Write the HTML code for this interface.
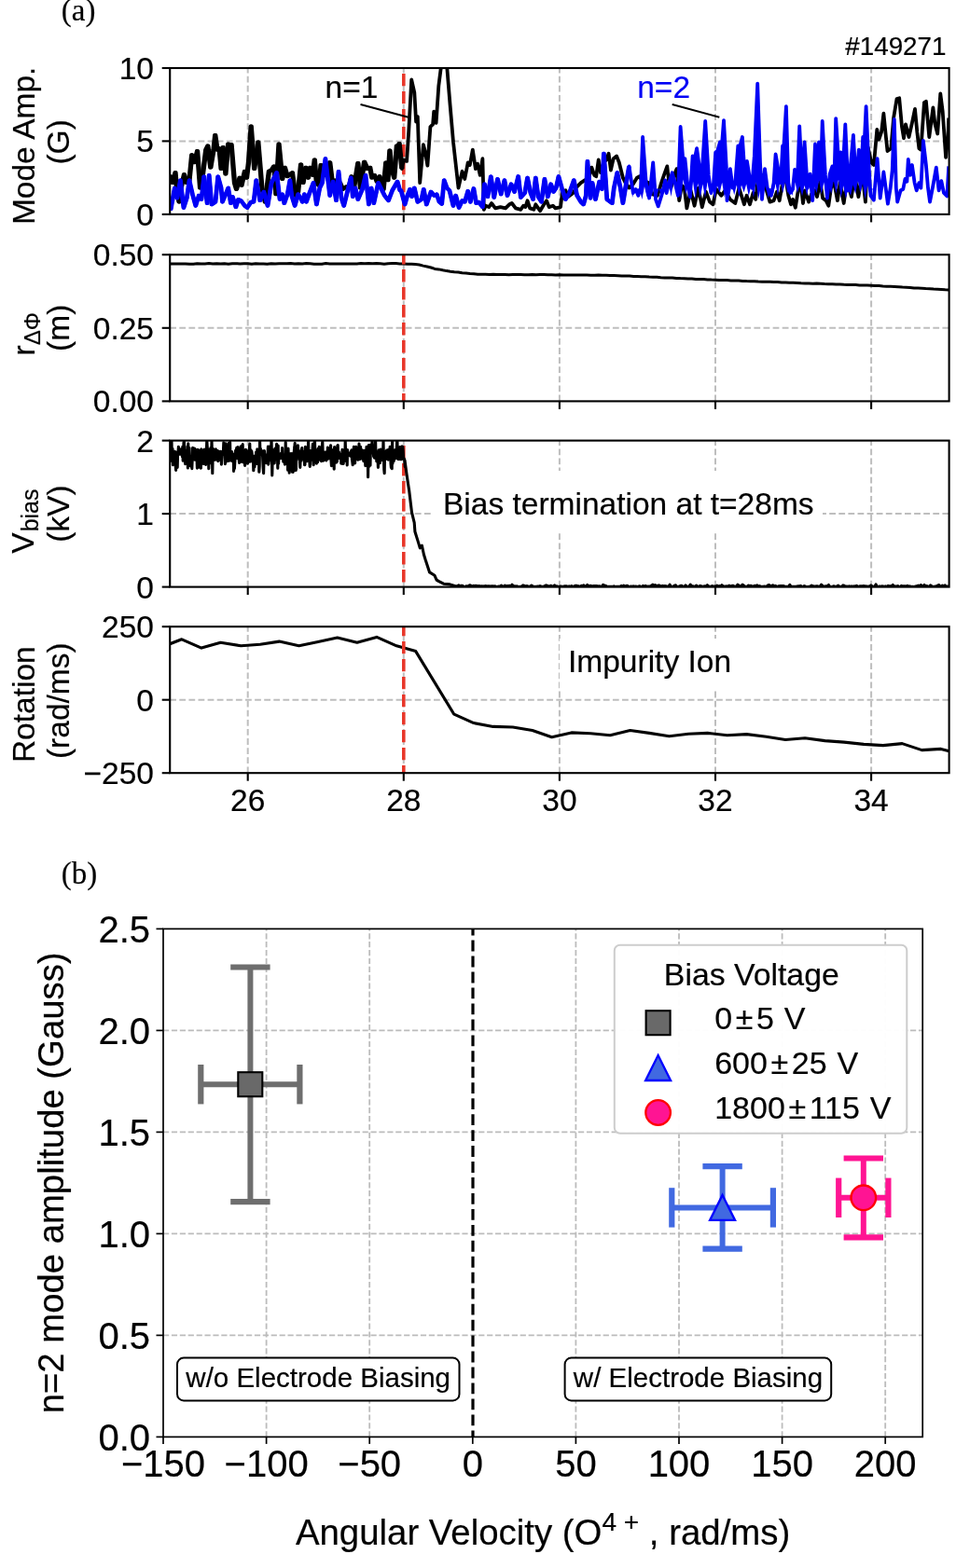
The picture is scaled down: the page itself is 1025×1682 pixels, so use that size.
<!DOCTYPE html>
<html><head><meta charset="utf-8"><title>Figure</title>
<style>html,body{margin:0;padding:0;background:#fff;overflow:hidden}svg{display:block}.t text{stroke:#000;stroke-width:.2px}.t text.bl{stroke:#0000f5}</style></head>
<body>
<svg width="1025" height="1682" viewBox="0 0 1025 1682">
<defs>
<clipPath id="c0"><rect x="182.2" y="73.0" width="835.4" height="156.9"/></clipPath>
<clipPath id="c1"><rect x="182.2" y="273.2" width="835.4" height="157.2"/></clipPath>
<clipPath id="c2"><rect x="182.2" y="472.6" width="835.4" height="157.0"/></clipPath>
<clipPath id="c3"><rect x="182.2" y="672.2" width="835.4" height="157.0"/></clipPath>
</defs>
<rect width="1025" height="1682" fill="#fff"/>
<g id="fig">
<g font-family='"Liberation Sans", Arial, Helvetica, sans-serif' font-size="33.5" fill="#000" class="t">
<line x1="265.7" y1="229.9" x2="265.7" y2="73.0" stroke="#bebebe" stroke-width="2.0" stroke-dasharray="6.8 3.3"/>
<line x1="432.8" y1="229.9" x2="432.8" y2="73.0" stroke="#bebebe" stroke-width="2.0" stroke-dasharray="6.8 3.3"/>
<line x1="599.9" y1="229.9" x2="599.9" y2="73.0" stroke="#bebebe" stroke-width="2.0" stroke-dasharray="6.8 3.3"/>
<line x1="767.0" y1="229.9" x2="767.0" y2="73.0" stroke="#bebebe" stroke-width="2.0" stroke-dasharray="6.8 3.3"/>
<line x1="934.1" y1="229.9" x2="934.1" y2="73.0" stroke="#bebebe" stroke-width="2.0" stroke-dasharray="6.8 3.3"/>
<line x1="182.2" y1="151.4" x2="1017.6" y2="151.4" stroke="#bebebe" stroke-width="2.0" stroke-dasharray="6.8 3.3"/>
<line x1="432.8" y1="229.9" x2="432.8" y2="73.0" stroke="#e8372a" stroke-width="3.6" stroke-dasharray="13.3 5.7" stroke-dashoffset="14.4"/>
<g clip-path="url(#c0)" fill="none" stroke-linejoin="round" stroke-linecap="butt">
<path d="M182.2 189.3 L183.2 189.3 L185.2 196.1 L188.0 185.2 L190.0 208.4 L192.1 216.6 L194.1 201.6 L197.5 187.2 L200.3 196.1 L203.0 193.4 L205.7 166.1 L208.5 174.3 L211.6 162.0 L214.6 201.6 L217.3 187.9 L220.8 160.6 L222.8 156.5 L225.8 179.7 L229.0 160.6 L230.7 144.9 L233.0 160.6 L235.1 159.2 L237.1 181.1 L239.2 157.9 L241.9 186.6 L244.7 154.5 L248.1 155.1 L251.5 196.1 L253.5 203.0 L257.0 190.7 L259.0 198.9 L262.4 183.8 L264.5 190.7 L266.5 174.3 L269.2 135.3 L272.7 181.1 L276.8 152.4 L280.9 201.6 L284.3 216.6 L288.4 183.8 L291.1 182.5 L293.8 178.4 L295.9 208.4 L299.0 154.5 L302.7 192.0 L305.4 179.7 L308.2 189.3 L311.6 186.6 L313.4 185.2 L316.8 209.8 L319.6 205.7 L322.6 176.3 L325.0 196.1 L327.8 179.7 L330.5 190.7 L332.5 179.7 L335.3 187.9 L337.3 171.5 L339.4 196.1 L342.1 198.9 L344.1 177.0 L347.6 187.9 L351.0 183.8 L353.7 174.3 L356.4 196.1 L359.2 193.4 L361.9 201.6 L364.6 196.1 L367.4 203.0 L371.5 200.2 L374.2 201.6 L376.9 189.3 L379.7 200.2 L383.8 175.0 L386.5 201.6 L390.6 173.6 L394.0 181.1 L396.7 179.7 L398.8 190.7 L401.5 187.9 L404.2 194.8 L407.0 189.3 L411.1 203.0 L413.8 174.3 L415.9 193.4 L417.9 161.3 L420.0 181.1 L422.7 190.7 L425.4 156.5 L426.8 160.6 L428.1 153.8 L430.9 181.1" stroke="#000" stroke-width="3.8" transform="translate(-0.75 0)"/>
<path d="M182.2 189.3 L183.2 189.3 L185.2 196.1 L188.0 185.2 L190.0 208.4 L192.1 216.6 L194.1 201.6 L197.5 187.2 L200.3 196.1 L203.0 193.4 L205.7 166.1 L208.5 174.3 L211.6 162.0 L214.6 201.6 L217.3 187.9 L220.8 160.6 L222.8 156.5 L225.8 179.7 L229.0 160.6 L230.7 144.9 L233.0 160.6 L235.1 159.2 L237.1 181.1 L239.2 157.9 L241.9 186.6 L244.7 154.5 L248.1 155.1 L251.5 196.1 L253.5 203.0 L257.0 190.7 L259.0 198.9 L262.4 183.8 L264.5 190.7 L266.5 174.3 L269.2 135.3 L272.7 181.1 L276.8 152.4 L280.9 201.6 L284.3 216.6 L288.4 183.8 L291.1 182.5 L293.8 178.4 L295.9 208.4 L299.0 154.5 L302.7 192.0 L305.4 179.7 L308.2 189.3 L311.6 186.6 L313.4 185.2 L316.8 209.8 L319.6 205.7 L322.6 176.3 L325.0 196.1 L327.8 179.7 L330.5 190.7 L332.5 179.7 L335.3 187.9 L337.3 171.5 L339.4 196.1 L342.1 198.9 L344.1 177.0 L347.6 187.9 L351.0 183.8 L353.7 174.3 L356.4 196.1 L359.2 193.4 L361.9 201.6 L364.6 196.1 L367.4 203.0 L371.5 200.2 L374.2 201.6 L376.9 189.3 L379.7 200.2 L383.8 175.0 L386.5 201.6 L390.6 173.6 L394.0 181.1 L396.7 179.7 L398.8 190.7 L401.5 187.9 L404.2 194.8 L407.0 189.3 L411.1 203.0 L413.8 174.3 L415.9 193.4 L417.9 161.3 L420.0 181.1 L422.7 190.7 L425.4 156.5 L426.8 160.6 L428.1 153.8 L430.9 181.1" stroke="#000" stroke-width="3.8" transform="translate(0.75 0)"/>
<path d="M182.2 189.3 L183.2 189.3 L185.2 196.1 L188.0 185.2 L190.0 208.4 L192.1 216.6 L194.1 201.6 L197.5 187.2 L200.3 196.1 L203.0 193.4 L205.7 166.1 L208.5 174.3 L211.6 162.0 L214.6 201.6 L217.3 187.9 L220.8 160.6 L222.8 156.5 L225.8 179.7 L229.0 160.6 L230.7 144.9 L233.0 160.6 L235.1 159.2 L237.1 181.1 L239.2 157.9 L241.9 186.6 L244.7 154.5 L248.1 155.1 L251.5 196.1 L253.5 203.0 L257.0 190.7 L259.0 198.9 L262.4 183.8 L264.5 190.7 L266.5 174.3 L269.2 135.3 L272.7 181.1 L276.8 152.4 L280.9 201.6 L284.3 216.6 L288.4 183.8 L291.1 182.5 L293.8 178.4 L295.9 208.4 L299.0 154.5 L302.7 192.0 L305.4 179.7 L308.2 189.3 L311.6 186.6 L313.4 185.2 L316.8 209.8 L319.6 205.7 L322.6 176.3 L325.0 196.1 L327.8 179.7 L330.5 190.7 L332.5 179.7 L335.3 187.9 L337.3 171.5 L339.4 196.1 L342.1 198.9 L344.1 177.0 L347.6 187.9 L351.0 183.8 L353.7 174.3 L356.4 196.1 L359.2 193.4 L361.9 201.6 L364.6 196.1 L367.4 203.0 L371.5 200.2 L374.2 201.6 L376.9 189.3 L379.7 200.2 L383.8 175.0 L386.5 201.6 L390.6 173.6 L394.0 181.1 L396.7 179.7 L398.8 190.7 L401.5 187.9 L404.2 194.8 L407.0 189.3 L411.1 203.0 L413.8 174.3 L415.9 193.4 L417.9 161.3 L420.0 181.1 L422.7 190.7 L425.4 156.5 L426.8 160.6 L428.1 153.8 L430.9 181.1 L432.9 171.5 L436.1 172.9 L438.2 141.5 L441.2 85.5 L444.3 99.1 L446.1 130.6 L447.8 125.1 L450.2 196.1 L453.9 155.1 L456.0 163.3 L458.4 177.7 L461.4 136.0 L464.1 133.3 L465.2 119.6 L467.6 131.9 L470.3 92.3 L473.4 67.7 L476.2 56.8 L478.9 67.7 L482.6 112.8 L486.0 152.4 L491.5 201.6 L495.6 183.8 L498.3 192.0 L501.7 174.3 L503.8 177.0 L506.8 160.6 L509.9 181.1 L512.0 175.6 L514.7 187.9 L517.4 170.2 L518.8 224.8 L520.8 220.7 L524.2 222.1 L527.0 218.0 L531.1 223.4 L536.5 222.1 L542.0 223.4 L546.1 219.3 L548.8 218.0 L552.9 223.4 L558.4 224.8 L561.1 220.7 L563.4 222.1 L565.5 215.2 L568.2 223.4 L572.3 224.8 L574.3 219.3 L579.1 226.2 L583.2 219.3 L586.0 215.2 L588.7 222.1 L592.8 220.7 L595.5 223.4 L601.0 222.1 L603.0 205.7 L606.4 204.3 L609.2 211.1 L614.6 207.0 L617.4 201.6 L622.8 196.1 L626.9 193.4 L631.0 192.0 L634.4 179.7 L637.2 187.9 L639.2 189.3 L641.7 171.5 L644.0 185.2 L647.4 174.3 L650.1 171.5 L652.6 164.7 L654.9 182.5 L657.7 170.2 L661.1 167.4 L663.8 174.3 L667.9 190.7 L670.6 196.1 L674.7 201.6 L678.8 197.5 L682.9 190.7 L685.7 189.3 L689.8 196.1 L690.0 193.4 L695.5 196.1 L699.6 208.4 L705.0 209.8 L709.1 196.1 L711.9 187.9 L715.3 178.4 L717.3 196.1 L719.4 201.6 L722.8 187.9 L725.5 181.1 L728.2 215.2 L731.0 198.9 L733.7 201.6 L736.4 223.4 L740.5 204.3 L744.6 220.7 L748.7 201.6 L752.8 222.1 L756.9 205.7 L761.0 216.6 L764.4 219.3 L767.9 203.0 L773.3 209.8 L777.4 204.3 L782.9 213.9 L788.3 218.0 L792.4 201.6 L797.9 219.3 L800.6 209.8 L804.0 219.3 L807.5 207.0 L810.2 213.9 L812.9 190.7 L815.7 196.1 L818.4 187.9 L821.1 201.6 L825.5 216.6 L829.6 215.2 L833.0 205.7 L835.7 215.2 L839.1 196.1 L842.5 192.0 L845.3 209.8 L848.0 219.3 L850.0 213.9 L852.8 222.8 L856.2 201.6 L858.9 200.2 L861.0 218.0 L863.0 204.3 L867.1 216.6 L869.9 208.4 L873.3 204.3 L876.0 211.1 L879.4 194.8 L882.1 212.5 L885.6 215.2 L888.3 220.7 L891.0 201.6 L894.4 196.1 L897.9 215.2 L900.6 196.1 L904.7 218.0 L908.1 193.4 L912.9 211.1 L916.3 187.9 L920.4 211.1 L924.5 185.2 L927.9 216.6 L930.6 157.9 L934.2 174.3 L936.9 177.0 L940.3 138.8 L942.4 149.7 L945.1 141.5 L947.4 121.7 L949.9 147.0 L951.5 162.0 L955.3 159.2 L958.1 126.5 L961.5 106.0 L964.2 105.3 L967.0 136.0 L969.0 148.3 L971.0 133.3 L974.5 147.0 L977.9 131.9 L981.0 116.9 L983.3 141.5 L985.4 159.2 L987.4 160.6 L990.9 110.1 L992.9 108.7 L996.3 147.0 L1000.4 115.5 L1002.5 133.3 L1005.2 143.5 L1008.3 100.5 L1010.7 119.6 L1014.1 168.8 L1016.4 147.0 L1017.2 126.5" stroke="#000" stroke-width="3.8"/>
<path d="M676.0 188.5 L678.8 202.4 L681.6 202.4 L684.3 202.4 L687.0 201.6 L689.1 147.0 L692.7 196.1 L696.1 202.4 L700.2 174.3 L703.0 202.4 L705.7 202.4 L710.5 202.4 L713.2 193.4 L714.6 202.4 L717.3 196.1 L720.7 185.2 L724.1 197.5 L726.9 202.4 L729.6 136.0 L732.3 171.5 L734.4 170.2 L737.1 196.1 L739.9 202.4 L742.6 167.4 L744.6 171.5 L747.1 159.2 L750.1 181.1 L752.8 182.5 L756.2 129.9 L759.7 187.9 L762.4 202.4 L765.1 196.1 L767.2 163.3 L769.2 162.0 L772.0 152.4 L774.0 155.1 L776.0 129.2 L778.8 179.7 L779.5 202.4 L782.9 181.1 L785.6 201.6 L788.3 196.1 L791.3 156.5 L793.1 157.9 L795.9 147.0 L798.6 187.9 L800.9 172.9 L804.0 192.0 L806.1 201.6 L808.8 167.4 L812.2 89.6 L815.0 174.3 L817.0 202.4 L820.0 181.1 L822.7 201.6 L826.8 202.4 L829.6 196.1 L831.6 165.4 L834.3 181.1 L837.1 196.1 L839.1 156.5 L840.5 155.1 L842.9 114.2 L845.3 196.1 L847.3 202.4 L850.0 202.4 L852.1 181.8 L854.8 196.1 L857.2 135.3 L859.6 187.9 L862.6 152.4 L865.8 201.6 L868.5 186.6 L871.2 202.4 L874.0 154.5 L876.0 187.9 L878.0 152.4 L880.1 185.2 L881.7 129.9 L884.9 187.9 L886.9 202.4 L889.7 186.6 L892.4 178.4 L894.4 193.4 L896.2 127.1 L899.2 174.3 L901.3 163.3 L903.3 190.7 L906.3 133.3 L909.5 202.4 L912.2 174.3 L914.9 144.9 L917.7 194.8 L920.8 160.6 L923.1 190.7 L925.2 147.0 L926.5 157.9 L928.6 114.2 L931.3 174.3 L933.5 202.4 L936.9 202.4 L938.0 201.3 L938.0 212.4 L935.4 202.4 L932.8 211.1 L930.2 198.9 L927.6 213.7 L925.0 196.9 L922.4 207.0 L919.8 193.8 L917.2 208.2 L914.6 198.3 L912.0 210.0 L909.4 202.4 L906.8 212.9 L904.2 199.3 L901.6 212.5 L899.0 192.8 L896.4 207.7 L893.8 193.8 L891.2 207.9 L888.6 198.6 L886.0 211.8 L883.4 195.2 L880.8 208.5 L878.2 193.4 L875.6 207.3 L873.0 199.4 L870.4 209.5 L867.8 194.8 L865.2 210.2 L862.6 198.7 L860.0 210.5 L857.4 199.4 L854.8 206.9 L852.2 193.3 L849.6 209.9 L847.0 202.4 L844.4 207.1 L841.8 195.6 L839.2 207.3 L836.6 193.5 L834.0 210.2 L831.4 196.8 L828.8 209.5 L826.2 202.4 L823.6 212.9 L821.0 197.7 L818.4 207.8 L815.8 199.7 L813.2 213.8 L810.6 195.2 L808.0 212.0 L805.4 198.3 L802.8 210.5 L800.2 197.4 L797.6 206.4 L795.0 198.6 L792.4 211.0 L789.8 198.5 L787.2 209.2 L784.6 197.9 L782.0 211.4 L779.4 202.4 L776.8 211.7 L774.2 195.7 L771.6 207.1 L769.0 199.3 L766.4 213.7 L763.8 201.4 L761.2 208.2 L758.6 195.3 L756.0 212.3 L753.4 197.5 L750.8 212.8 L748.2 196.5 L745.6 213.9 L743.0 194.6 L740.4 207.2 L737.8 199.9 L735.2 208.4 L732.6 192.6 L730.0 214.1 L727.4 197.8 L724.8 206.6 L722.2 194.0 L719.6 211.0 L717.0 197.4 L714.4 209.3 L711.8 199.8 L709.2 211.9 L706.6 202.4 L704.0 210.7 L701.4 199.0 L698.8 211.2 L696.2 202.4 L693.6 211.6 L691.0 200.0 L688.4 213.9 L685.8 202.4 L683.2 208.1 L680.6 202.4 L678.0 211.9 Z" fill="#0000f5" stroke="none"/>
<path d="M182.2 224.1 L183.2 224.1 L187.3 201.6 L190.0 212.5 L193.4 193.4 L196.9 222.8 L200.3 212.5 L203.0 193.4 L206.4 208.4 L209.8 220.7 L213.2 209.8 L216.0 213.9 L218.7 189.3 L222.1 218.0 L224.2 187.9 L226.9 219.3 L231.0 216.6 L233.7 189.3 L237.1 201.6 L238.5 216.6 L241.9 208.4 L244.7 201.6 L247.4 218.0 L249.4 211.1 L252.9 222.1 L255.6 213.9 L258.3 215.2 L262.4 220.7 L265.1 222.8 L269.2 216.6 L272.0 216.6 L274.7 193.4 L278.8 215.2 L282.9 205.7 L287.0 220.7 L291.1 196.1 L296.6 185.2 L300.0 213.9 L302.7 208.4 L304.8 218.0 L308.2 208.4 L310.9 193.4 L312.7 209.8 L316.1 220.7 L319.6 208.4 L322.3 212.5 L324.3 216.6 L326.4 208.4 L328.4 216.6 L331.9 207.0 L336.0 196.1 L339.4 219.3 L342.8 201.6 L345.5 196.1 L348.9 170.2 L351.0 187.9 L353.7 209.8 L357.1 194.8 L360.5 215.2 L363.0 183.8 L366.0 212.5 L368.7 220.7 L372.8 204.3 L376.2 190.7 L378.3 211.1 L381.0 201.6 L383.8 213.9 L388.5 203.0 L392.0 187.9 L395.4 219.3 L398.1 201.6 L400.8 218.0 L405.6 196.1 L408.3 201.6 L412.4 209.8 L416.5 215.2 L420.6 204.3 L426.1 194.8 L428.8 204.3 L430.0 204.3 L434.1 219.3 L436.8 209.8 L439.6 203.0 L441.6 211.1 L444.3 201.6 L447.8 216.6 L451.9 213.9 L454.3 203.0 L457.3 219.3 L462.1 205.7 L465.5 209.8 L468.2 208.4 L471.0 216.6 L473.7 218.7 L476.2 193.4 L479.2 201.6 L481.9 204.3 L486.0 220.7 L488.7 209.8 L492.1 222.8 L495.6 215.2 L498.3 216.6 L501.7 205.0 L504.4 216.6 L507.9 202.3 L510.6 218.0 L513.3 216.6 L517.4 222.1 L519.5 197.5 L522.9 211.1 L526.3 189.3 L529.7 211.8 L533.5 192.0 L537.2 208.4 L540.9 193.4 L544.0 209.8 L548.1 197.5 L551.6 205.7 L555.7 189.3 L558.4 211.8 L562.7 207.0 L565.5 190.7 L568.9 207.0 L571.6 213.9 L574.3 190.7 L577.1 211.1 L580.5 216.6 L583.9 192.0 L587.3 211.1 L590.7 197.5 L593.5 205.7 L596.2 201.6 L598.9 189.3 L602.3 201.6 L606.4 213.9 L610.5 207.0 L615.3 193.4 L618.7 209.8 L622.8 216.6 L625.6 219.3 L628.3 209.8 L629.9 172.9 L633.1 212.5 L635.1 196.1 L638.5 213.9 L642.6 194.8 L645.4 203.0 L647.4 164.7 L650.8 213.9 L656.3 218.0 L658.3 201.6 L661.8 185.2 L665.2 201.6 L667.9 218.0 L670.6 201.6 L674.5 178.4" stroke="#0000f5" stroke-width="3.8" transform="translate(-0.5 0)"/>
<path d="M182.2 224.1 L183.2 224.1 L187.3 201.6 L190.0 212.5 L193.4 193.4 L196.9 222.8 L200.3 212.5 L203.0 193.4 L206.4 208.4 L209.8 220.7 L213.2 209.8 L216.0 213.9 L218.7 189.3 L222.1 218.0 L224.2 187.9 L226.9 219.3 L231.0 216.6 L233.7 189.3 L237.1 201.6 L238.5 216.6 L241.9 208.4 L244.7 201.6 L247.4 218.0 L249.4 211.1 L252.9 222.1 L255.6 213.9 L258.3 215.2 L262.4 220.7 L265.1 222.8 L269.2 216.6 L272.0 216.6 L274.7 193.4 L278.8 215.2 L282.9 205.7 L287.0 220.7 L291.1 196.1 L296.6 185.2 L300.0 213.9 L302.7 208.4 L304.8 218.0 L308.2 208.4 L310.9 193.4 L312.7 209.8 L316.1 220.7 L319.6 208.4 L322.3 212.5 L324.3 216.6 L326.4 208.4 L328.4 216.6 L331.9 207.0 L336.0 196.1 L339.4 219.3 L342.8 201.6 L345.5 196.1 L348.9 170.2 L351.0 187.9 L353.7 209.8 L357.1 194.8 L360.5 215.2 L363.0 183.8 L366.0 212.5 L368.7 220.7 L372.8 204.3 L376.2 190.7 L378.3 211.1 L381.0 201.6 L383.8 213.9 L388.5 203.0 L392.0 187.9 L395.4 219.3 L398.1 201.6 L400.8 218.0 L405.6 196.1 L408.3 201.6 L412.4 209.8 L416.5 215.2 L420.6 204.3 L426.1 194.8 L428.8 204.3 L430.0 204.3 L434.1 219.3 L436.8 209.8 L439.6 203.0 L441.6 211.1 L444.3 201.6 L447.8 216.6 L451.9 213.9 L454.3 203.0 L457.3 219.3 L462.1 205.7 L465.5 209.8 L468.2 208.4 L471.0 216.6 L473.7 218.7 L476.2 193.4 L479.2 201.6 L481.9 204.3 L486.0 220.7 L488.7 209.8 L492.1 222.8 L495.6 215.2 L498.3 216.6 L501.7 205.0 L504.4 216.6 L507.9 202.3 L510.6 218.0 L513.3 216.6 L517.4 222.1 L519.5 197.5 L522.9 211.1 L526.3 189.3 L529.7 211.8 L533.5 192.0 L537.2 208.4 L540.9 193.4 L544.0 209.8 L548.1 197.5 L551.6 205.7 L555.7 189.3 L558.4 211.8 L562.7 207.0 L565.5 190.7 L568.9 207.0 L571.6 213.9 L574.3 190.7 L577.1 211.1 L580.5 216.6 L583.9 192.0 L587.3 211.1 L590.7 197.5 L593.5 205.7 L596.2 201.6 L598.9 189.3 L602.3 201.6 L606.4 213.9 L610.5 207.0 L615.3 193.4 L618.7 209.8 L622.8 216.6 L625.6 219.3 L628.3 209.8 L629.9 172.9 L633.1 212.5 L635.1 196.1 L638.5 213.9 L642.6 194.8 L645.4 203.0 L647.4 164.7 L650.8 213.9 L656.3 218.0 L658.3 201.6 L661.8 185.2 L665.2 201.6 L667.9 218.0 L670.6 201.6 L674.5 178.4" stroke="#0000f5" stroke-width="3.8" transform="translate(0.5 0)"/>
<path d="M182.2 224.1 L183.2 224.1 L187.3 201.6 L190.0 212.5 L193.4 193.4 L196.9 222.8 L200.3 212.5 L203.0 193.4 L206.4 208.4 L209.8 220.7 L213.2 209.8 L216.0 213.9 L218.7 189.3 L222.1 218.0 L224.2 187.9 L226.9 219.3 L231.0 216.6 L233.7 189.3 L237.1 201.6 L238.5 216.6 L241.9 208.4 L244.7 201.6 L247.4 218.0 L249.4 211.1 L252.9 222.1 L255.6 213.9 L258.3 215.2 L262.4 220.7 L265.1 222.8 L269.2 216.6 L272.0 216.6 L274.7 193.4 L278.8 215.2 L282.9 205.7 L287.0 220.7 L291.1 196.1 L296.6 185.2 L300.0 213.9 L302.7 208.4 L304.8 218.0 L308.2 208.4 L310.9 193.4 L312.7 209.8 L316.1 220.7 L319.6 208.4 L322.3 212.5 L324.3 216.6 L326.4 208.4 L328.4 216.6 L331.9 207.0 L336.0 196.1 L339.4 219.3 L342.8 201.6 L345.5 196.1 L348.9 170.2 L351.0 187.9 L353.7 209.8 L357.1 194.8 L360.5 215.2 L363.0 183.8 L366.0 212.5 L368.7 220.7 L372.8 204.3 L376.2 190.7 L378.3 211.1 L381.0 201.6 L383.8 213.9 L388.5 203.0 L392.0 187.9 L395.4 219.3 L398.1 201.6 L400.8 218.0 L405.6 196.1 L408.3 201.6 L412.4 209.8 L416.5 215.2 L420.6 204.3 L426.1 194.8 L428.8 204.3 L430.0 204.3 L434.1 219.3 L436.8 209.8 L439.6 203.0 L441.6 211.1 L444.3 201.6 L447.8 216.6 L451.9 213.9 L454.3 203.0 L457.3 219.3 L462.1 205.7 L465.5 209.8 L468.2 208.4 L471.0 216.6 L473.7 218.7 L476.2 193.4 L479.2 201.6 L481.9 204.3 L486.0 220.7 L488.7 209.8 L492.1 222.8 L495.6 215.2 L498.3 216.6 L501.7 205.0 L504.4 216.6 L507.9 202.3 L510.6 218.0 L513.3 216.6 L517.4 222.1 L519.5 197.5 L522.9 211.1 L526.3 189.3 L529.7 211.8 L533.5 192.0 L537.2 208.4 L540.9 193.4 L544.0 209.8 L548.1 197.5 L551.6 205.7 L555.7 189.3 L558.4 211.8 L562.7 207.0 L565.5 190.7 L568.9 207.0 L571.6 213.9 L574.3 190.7 L577.1 211.1 L580.5 216.6 L583.9 192.0 L587.3 211.1 L590.7 197.5 L593.5 205.7 L596.2 201.6 L598.9 189.3 L602.3 201.6 L606.4 213.9 L610.5 207.0 L615.3 193.4 L618.7 209.8 L622.8 216.6 L625.6 219.3 L628.3 209.8 L629.9 172.9 L633.1 212.5 L635.1 196.1 L638.5 213.9 L642.6 194.8 L645.4 203.0 L647.4 164.7 L650.8 213.9 L656.3 218.0 L658.3 201.6 L661.8 185.2 L665.2 201.6 L667.9 218.0 L670.6 201.6 L674.5 178.4 L678.8 207.0 L681.6 203.0 L684.3 209.8 L687.0 201.6 L689.1 147.0 L692.7 196.1 L696.1 212.5 L700.2 174.3 L703.0 213.9 L705.7 221.4 L710.5 205.7 L713.2 193.4 L714.6 207.0 L717.3 196.1 L720.7 185.2 L724.1 197.5 L726.9 209.8 L729.6 136.0 L732.3 171.5 L734.4 170.2 L737.1 196.1 L739.9 211.1 L742.6 167.4 L744.6 171.5 L747.1 159.2 L750.1 181.1 L752.8 182.5 L756.2 129.9 L759.7 187.9 L762.4 207.0 L765.1 196.1 L767.2 163.3 L769.2 162.0 L772.0 152.4 L774.0 155.1 L776.0 129.2 L778.8 179.7 L779.5 215.2 L782.9 181.1 L785.6 201.6 L788.3 196.1 L791.3 156.5 L793.1 157.9 L795.9 147.0 L798.6 187.9 L800.9 172.9 L804.0 192.0 L806.1 201.6 L808.8 167.4 L812.2 89.6 L815.0 174.3 L817.0 213.9 L820.0 181.1 L822.7 201.6 L826.8 209.8 L829.6 196.1 L831.6 165.4 L834.3 181.1 L837.1 196.1 L839.1 156.5 L840.5 155.1 L842.9 114.2 L845.3 196.1 L847.3 207.0 L850.0 203.0 L852.1 181.8 L854.8 196.1 L857.2 135.3 L859.6 187.9 L862.6 152.4 L865.8 201.6 L868.5 186.6 L871.2 215.2 L874.0 154.5 L876.0 187.9 L878.0 152.4 L880.1 185.2 L881.7 129.9 L884.9 187.9 L886.9 212.5 L889.7 186.6 L892.4 178.4 L894.4 193.4 L896.2 127.1 L899.2 174.3 L901.3 163.3 L903.3 190.7 L906.3 133.3 L909.5 204.3 L912.2 174.3 L914.9 144.9 L917.7 194.8 L920.8 160.6 L923.1 190.7 L925.2 147.0 L926.5 157.9 L928.6 114.2 L931.3 174.3 L933.5 209.8 L936.9 214.6 L940.6 170.2 L943.7 212.5 L947.4 184.5 L951.9 218.7 L954.7 201.6 L956.7 182.5 L958.8 127.8 L960.8 201.6 L962.2 216.6 L965.6 204.3 L968.3 203.0 L970.4 192.0 L972.4 194.8 L973.8 170.9 L975.8 187.9 L977.9 177.0 L980.6 196.1 L982.7 204.3 L985.4 196.1 L987.4 201.6 L989.9 151.0 L992.9 177.0 L995.0 201.6 L997.0 216.6 L1000.4 198.9 L1003.8 179.7 L1006.6 204.3 L1009.3 194.1 L1012.0 207.0 L1015.4 210.5 L1017.2 178.4" stroke="#0000f5" stroke-width="3.8"/>
</g>
<line x1="265.7" y1="229.9" x2="265.7" y2="238.4" stroke="#000" stroke-width="2.1"/>
<line x1="432.8" y1="229.9" x2="432.8" y2="238.4" stroke="#000" stroke-width="2.1"/>
<line x1="599.9" y1="229.9" x2="599.9" y2="238.4" stroke="#000" stroke-width="2.1"/>
<line x1="767.0" y1="229.9" x2="767.0" y2="238.4" stroke="#000" stroke-width="2.1"/>
<line x1="934.1" y1="229.9" x2="934.1" y2="238.4" stroke="#000" stroke-width="2.1"/>
<line x1="173.7" y1="73.0" x2="182.2" y2="73.0" stroke="#000" stroke-width="2.1"/>
<text x="165.0" y="85.0" text-anchor="end">10</text>
<line x1="173.7" y1="151.4" x2="182.2" y2="151.4" stroke="#000" stroke-width="2.1"/>
<text x="165.0" y="163.4" text-anchor="end">5</text>
<line x1="173.7" y1="229.9" x2="182.2" y2="229.9" stroke="#000" stroke-width="2.1"/>
<text x="165.0" y="241.9" text-anchor="end">0</text>
<rect x="182.2" y="73.0" width="835.4" height="156.9" fill="none" stroke="#000" stroke-width="2.1"/>
<text transform="translate(37.3 156.4) rotate(-90)" text-anchor="middle">Mode Amp.</text>
<text transform="translate(73.5 152.4) rotate(-90)" text-anchor="middle">(G)</text>
<text x="348.5" y="105">n=1</text>
<line x1="386.5" y1="112" x2="437.7" y2="125.8" stroke="#000" stroke-width="2"/>
<text x="683.2" y="105" fill="#0000f5" class="bl">n=2</text>
<line x1="720.7" y1="112" x2="771.3" y2="125.8" stroke="#000" stroke-width="2"/>
<text x="1014.5" y="59" text-anchor="end" font-size="27.8">#149271</text>
<line x1="265.7" y1="430.4" x2="265.7" y2="273.2" stroke="#bebebe" stroke-width="2.0" stroke-dasharray="6.8 3.3"/>
<line x1="432.8" y1="430.4" x2="432.8" y2="273.2" stroke="#bebebe" stroke-width="2.0" stroke-dasharray="6.8 3.3"/>
<line x1="599.9" y1="430.4" x2="599.9" y2="273.2" stroke="#bebebe" stroke-width="2.0" stroke-dasharray="6.8 3.3"/>
<line x1="767.0" y1="430.4" x2="767.0" y2="273.2" stroke="#bebebe" stroke-width="2.0" stroke-dasharray="6.8 3.3"/>
<line x1="934.1" y1="430.4" x2="934.1" y2="273.2" stroke="#bebebe" stroke-width="2.0" stroke-dasharray="6.8 3.3"/>
<line x1="182.2" y1="351.8" x2="1017.6" y2="351.8" stroke="#bebebe" stroke-width="2.0" stroke-dasharray="6.8 3.3"/>
<path d="M182.2 283.1 L186.4 282.9 L190.6 283.0 L194.7 282.9 L198.9 282.9 L203.1 283.3 L207.3 283.3 L211.4 282.7 L215.6 283.1 L219.8 283.1 L224.0 282.6 L228.1 283.0 L232.3 282.7 L236.5 283.0 L240.7 282.8 L244.9 283.2 L249.0 282.8 L253.2 282.7 L257.4 282.9 L261.6 282.8 L265.7 282.8 L269.9 283.3 L274.1 282.8 L278.3 282.9 L282.4 283.1 L286.6 283.3 L290.8 282.7 L295.0 283.0 L299.2 282.8 L303.3 282.7 L307.5 282.8 L311.7 282.6 L315.9 283.0 L320.0 282.7 L324.2 283.0 L328.4 282.6 L332.6 282.7 L336.7 283.3 L340.9 283.2 L345.1 283.2 L349.3 282.6 L353.5 283.0 L357.6 282.9 L361.8 283.1 L366.0 282.9 L370.2 283.0 L374.3 283.1 L378.5 282.9 L382.7 282.9 L386.9 282.6 L391.0 282.8 L395.2 282.6 L399.4 282.7 L403.6 282.6 L407.8 282.8 L411.9 283.2 L416.1 282.7 L420.3 282.6 L424.5 282.6 L428.6 282.9 L432.8 282.9 L437.0 283.3 L441.2 283.3 L445.4 283.6 L449.5 284.0 L453.7 285.1 L457.9 286.0 L462.1 287.0 L466.2 288.4 L470.4 288.9 L474.6 289.8 L478.8 290.6 L482.9 291.2 L487.1 291.7 L491.3 292.1 L495.5 292.8 L499.7 293.0 L503.8 293.6 L508.0 293.8 L512.2 294.3 L516.4 294.2 L520.5 294.2 L524.7 294.4 L528.9 294.2 L533.1 294.5 L537.2 294.6 L541.4 294.4 L545.6 294.7 L549.8 294.6 L554.0 294.6 L558.1 294.6 L562.3 294.7 L566.5 294.8 L570.7 294.6 L574.8 294.8 L579.0 294.6 L583.2 294.6 L587.4 294.8 L591.5 294.8 L595.7 294.9 L599.9 294.8 L604.1 294.9 L608.3 294.9 L612.4 294.9 L616.6 294.9 L620.8 295.0 L625.0 295.1 L629.1 295.0 L633.3 295.2 L637.5 295.2 L641.7 295.0 L645.8 295.2 L650.0 295.2 L654.2 295.5 L658.4 295.5 L662.6 295.7 L666.7 296.0 L670.9 296.0 L675.1 296.1 L679.3 296.4 L683.4 296.4 L687.6 296.7 L691.8 296.8 L696.0 297.1 L700.1 297.2 L704.3 297.3 L708.5 297.7 L712.7 297.9 L716.9 297.9 L721.0 298.0 L725.2 298.4 L729.4 298.6 L733.6 298.7 L737.7 299.0 L741.9 299.1 L746.1 299.4 L750.3 299.5 L754.4 299.6 L758.6 299.9 L762.8 300.1 L767.0 300.2 L771.2 300.5 L775.3 300.5 L779.5 300.6 L783.7 300.9 L787.9 301.1 L792.0 301.1 L796.2 301.4 L800.4 301.6 L804.6 301.7 L808.8 301.7 L812.9 302.1 L817.1 302.2 L821.3 302.3 L825.5 302.3 L829.6 302.6 L833.8 302.6 L838.0 303.0 L842.2 303.1 L846.3 303.2 L850.5 303.3 L854.7 303.5 L858.9 303.8 L863.1 303.9 L867.2 303.9 L871.4 304.2 L875.6 304.1 L879.8 304.3 L883.9 304.6 L888.1 304.7 L892.3 304.7 L896.5 304.9 L900.6 305.0 L904.8 305.3 L909.0 305.5 L913.2 305.6 L917.4 305.6 L921.5 305.9 L925.7 306.0 L929.9 306.1 L934.1 306.2 L938.2 306.5 L942.4 306.6 L946.6 307.0 L950.8 307.3 L954.9 307.3 L959.1 307.5 L963.3 307.7 L967.5 308.1 L971.7 308.2 L975.8 308.4 L980.0 308.9 L984.2 309.0 L988.4 309.2 L992.5 309.5 L996.7 309.7 L1000.9 310.1 L1005.1 310.3 L1009.2 310.5 L1013.4 310.8 L1017.6 310.9" fill="none" stroke="#000" stroke-width="3.0" stroke-linejoin="round" clip-path="url(#c1)"/>
<line x1="432.8" y1="430.4" x2="432.8" y2="273.2" stroke="#e8372a" stroke-width="3.6" stroke-dasharray="13.3 5.7" stroke-dashoffset="5.0"/>
<line x1="265.7" y1="430.4" x2="265.7" y2="438.9" stroke="#000" stroke-width="2.1"/>
<line x1="432.8" y1="430.4" x2="432.8" y2="438.9" stroke="#000" stroke-width="2.1"/>
<line x1="599.9" y1="430.4" x2="599.9" y2="438.9" stroke="#000" stroke-width="2.1"/>
<line x1="767.0" y1="430.4" x2="767.0" y2="438.9" stroke="#000" stroke-width="2.1"/>
<line x1="934.1" y1="430.4" x2="934.1" y2="438.9" stroke="#000" stroke-width="2.1"/>
<line x1="173.7" y1="273.2" x2="182.2" y2="273.2" stroke="#000" stroke-width="2.1"/>
<text x="165.0" y="285.2" text-anchor="end">0.50</text>
<line x1="173.7" y1="351.8" x2="182.2" y2="351.8" stroke="#000" stroke-width="2.1"/>
<text x="165.0" y="363.8" text-anchor="end">0.25</text>
<line x1="173.7" y1="430.4" x2="182.2" y2="430.4" stroke="#000" stroke-width="2.1"/>
<text x="165.0" y="442.4" text-anchor="end">0.00</text>
<rect x="182.2" y="273.2" width="835.4" height="157.2" fill="none" stroke="#000" stroke-width="2.1"/>
<text transform="translate(37 358.3) rotate(-90)" text-anchor="middle">r<tspan font-size="24" dy="5.5">ΔΦ</tspan></text>
<text transform="translate(73.5 351.8) rotate(-90)" text-anchor="middle">(m)</text>
<line x1="265.7" y1="629.6" x2="265.7" y2="472.6" stroke="#bebebe" stroke-width="2.0" stroke-dasharray="6.8 3.3"/>
<line x1="432.8" y1="629.6" x2="432.8" y2="472.6" stroke="#bebebe" stroke-width="2.0" stroke-dasharray="6.8 3.3"/>
<line x1="599.9" y1="629.6" x2="599.9" y2="472.6" stroke="#bebebe" stroke-width="2.0" stroke-dasharray="6.8 3.3"/>
<line x1="767.0" y1="629.6" x2="767.0" y2="472.6" stroke="#bebebe" stroke-width="2.0" stroke-dasharray="6.8 3.3"/>
<line x1="934.1" y1="629.6" x2="934.1" y2="472.6" stroke="#bebebe" stroke-width="2.0" stroke-dasharray="6.8 3.3"/>
<line x1="182.2" y1="551.1" x2="1017.6" y2="551.1" stroke="#bebebe" stroke-width="2.0" stroke-dasharray="6.8 3.3"/>
<rect x="463" y="505" width="419" height="66" fill="#fff"/>
<line x1="432.8" y1="629.6" x2="432.8" y2="472.6" stroke="#e8372a" stroke-width="3.6" stroke-dasharray="13.3 5.7" stroke-dashoffset="13.8"/>
<path d="M182.2 495.5 L182.6 486.1 L183.0 485.5 L183.4 481.8 L183.8 463.8 L184.2 482.5 L184.6 494.9 L185.0 481.2 L185.4 498.8 L185.8 484.2 L186.2 492.9 L186.6 487.0 L187.0 490.0 L187.4 484.4 L187.8 485.0 L188.2 499.5 L188.6 504.5 L189.0 485.2 L189.4 488.6 L189.8 485.8 L190.2 501.5 L190.6 485.6 L191.0 484.8 L191.4 479.4 L191.8 487.2 L192.2 483.8 L192.6 486.9 L193.0 482.6 L193.4 487.3 L193.8 483.9 L194.2 481.7 L194.6 484.1 L195.0 481.8 L195.4 490.0 L195.8 479.2 L196.2 494.2 L196.6 483.6 L197.0 474.7 L197.4 473.6 L197.8 484.7 L198.2 492.3 L198.6 497.7 L199.0 483.4 L199.4 487.7 L199.8 490.3 L200.2 487.6 L200.6 496.3 L201.0 478.9 L201.4 501.9 L201.8 475.7 L202.2 497.8 L202.6 497.6 L203.0 480.5 L203.4 493.9 L203.8 493.3 L204.2 499.9 L204.6 495.7 L205.0 491.9 L205.4 500.2 L205.8 502.6 L206.2 493.8 L206.6 480.4 L207.0 492.5 L207.4 487.8 L207.8 488.3 L208.2 487.4 L208.6 481.1 L209.0 493.1 L209.4 486.3 L209.8 482.4 L210.2 492.8 L210.6 490.9 L211.0 491.8 L211.4 502.3 L211.8 486.9 L212.2 482.4 L212.6 486.2 L213.0 501.3 L213.4 497.6 L213.8 492.3 L214.2 487.1 L214.6 486.9 L215.0 483.1 L215.4 502.2 L215.8 481.7 L216.2 487.9 L216.6 490.6 L217.0 495.0 L217.4 486.2 L217.8 489.7 L218.2 497.4 L218.6 497.5 L219.0 482.1 L219.4 490.6 L219.8 494.2 L220.2 495.6 L220.6 498.4 L221.0 490.7 L221.4 482.8 L221.8 471.7 L222.2 478.6 L222.6 484.2 L223.0 484.1 L223.4 482.6 L223.8 502.7 L224.2 487.6 L224.6 489.4 L225.0 496.6 L225.4 496.7 L225.8 480.6 L226.2 495.9 L226.6 489.5 L227.0 473.0 L227.4 485.6 L227.8 507.6 L228.2 487.8 L228.6 489.1 L229.0 481.7 L229.4 493.4 L229.8 487.5 L230.2 488.1 L230.6 489.5 L231.0 493.3 L231.4 481.8 L231.8 488.3 L232.2 484.4 L232.6 491.7 L233.0 488.9 L233.4 483.5 L233.8 494.8 L234.2 484.1 L234.6 491.2 L235.0 485.9 L235.4 490.3 L235.8 485.3 L236.2 493.7 L236.6 484.4 L237.0 487.9 L237.4 498.2 L237.8 488.7 L238.2 487.0 L238.6 487.3 L239.0 486.7 L239.4 484.7 L239.8 474.9 L240.2 482.8 L240.6 482.3 L241.0 488.9 L241.4 497.6 L241.8 485.5 L242.2 475.9 L242.6 487.1 L243.0 494.9 L243.4 483.8 L243.8 480.0 L244.2 493.4 L244.6 481.7 L245.0 494.5 L245.4 475.3 L245.8 486.0 L246.2 486.7 L246.6 474.2 L247.0 494.0 L247.4 489.5 L247.8 487.0 L248.2 488.5 L248.6 484.6 L249.0 487.1 L249.4 495.0 L249.8 490.5 L250.2 487.4 L250.6 505.4 L251.0 491.8 L251.4 502.7 L251.8 496.1 L252.2 489.6 L252.6 483.4 L253.0 484.9 L253.4 482.4 L253.8 480.3 L254.2 483.1 L254.6 491.8 L255.0 479.6 L255.4 491.9 L255.8 482.1 L256.2 493.0 L256.6 496.5 L257.0 485.2 L257.4 487.0 L257.8 495.4 L258.2 478.9 L258.6 480.1 L259.0 491.3 L259.4 495.3 L259.8 488.2 L260.2 476.5 L260.6 495.6 L261.0 489.5 L261.4 496.2 L261.8 490.9 L262.2 494.0 L262.6 499.5 L263.0 486.9 L263.4 482.3 L263.8 483.1 L264.2 488.7 L264.6 490.1 L265.0 486.4 L265.4 497.2 L265.8 493.9 L266.2 483.9 L266.6 485.8 L267.0 494.2 L267.4 480.9 L267.8 476.1 L268.2 495.1 L268.6 490.8 L269.0 482.9 L269.4 492.0 L269.8 484.1 L270.2 486.2 L270.6 495.3 L271.0 494.8 L271.4 491.6 L271.8 504.8 L272.2 497.0 L272.6 489.3 L273.0 500.9 L273.4 490.9 L273.8 491.9 L274.2 492.5 L274.6 485.0 L275.0 490.0 L275.4 497.4 L275.8 481.8 L276.2 496.8 L276.6 497.5 L277.0 489.7 L277.4 489.3 L277.8 506.3 L278.2 499.9 L278.6 473.3 L279.0 487.4 L279.4 481.2 L279.8 486.7 L280.2 484.5 L280.6 486.4 L281.0 483.9 L281.4 485.5 L281.8 494.4 L282.2 502.4 L282.6 507.7 L283.0 493.7 L283.4 483.5 L283.8 488.2 L284.2 487.4 L284.6 491.0 L285.0 490.4 L285.4 496.6 L285.8 489.1 L286.2 488.3 L286.6 488.6 L287.0 489.5 L287.4 479.0 L287.8 498.2 L288.2 494.3 L288.6 479.0 L289.0 482.3 L289.4 485.8 L289.8 492.7 L290.2 489.5 L290.6 493.7 L291.0 469.1 L291.4 490.6 L291.8 509.9 L292.2 490.9 L292.6 489.7 L293.0 482.8 L293.4 490.6 L293.8 492.2 L294.2 497.0 L294.6 491.9 L295.0 481.0 L295.4 483.3 L295.8 490.4 L296.2 489.7 L296.6 476.4 L297.0 482.5 L297.4 485.8 L297.8 502.2 L298.2 478.0 L298.6 497.3 L299.0 489.9 L299.4 490.6 L299.8 490.9 L300.2 490.5 L300.6 491.6 L301.0 488.3 L301.4 486.3 L301.8 491.7 L302.2 488.0 L302.6 480.6 L303.0 491.2 L303.4 487.6 L303.8 495.3 L304.2 491.1 L304.6 490.7 L305.0 490.1 L305.4 498.2 L305.8 497.6 L306.2 474.4 L306.6 489.4 L307.0 487.8 L307.4 483.0 L307.8 494.1 L308.2 483.3 L308.6 504.3 L309.0 481.0 L309.4 494.3 L309.8 487.2 L310.2 507.3 L310.6 486.6 L311.0 500.0 L311.4 493.4 L311.8 489.1 L312.2 486.5 L312.6 488.2 L313.0 493.3 L313.4 506.3 L313.8 488.4 L314.2 506.4 L314.6 485.7 L315.0 497.7 L315.4 483.3 L315.8 479.8 L316.2 475.4 L316.6 504.4 L317.0 483.3 L317.4 504.4 L317.8 489.2 L318.2 481.7 L318.6 489.2 L319.0 484.5 L319.4 477.7 L319.8 484.3 L320.2 483.2 L320.6 489.1 L321.0 493.3 L321.4 492.9 L321.8 501.4 L322.2 489.3 L322.6 492.1 L323.0 494.3 L323.4 482.1 L323.8 480.5 L324.2 492.2 L324.6 484.0 L325.0 485.7 L325.4 487.5 L325.8 490.7 L326.2 491.9 L326.6 498.8 L327.0 498.4 L327.4 479.3 L327.8 493.8 L328.2 481.6 L328.6 491.2 L329.0 494.8 L329.4 491.7 L329.8 491.0 L330.2 487.7 L330.6 470.6 L331.0 490.0 L331.4 486.0 L331.8 494.1 L332.2 500.4 L332.6 498.3 L333.0 483.5 L333.4 493.5 L333.8 493.3 L334.2 486.2 L334.6 484.3 L335.0 482.7 L335.4 476.3 L335.8 487.1 L336.2 498.7 L336.6 485.8 L337.0 490.4 L337.4 469.1 L337.8 484.1 L338.2 492.4 L338.6 489.7 L339.0 488.9 L339.4 497.2 L339.8 483.1 L340.2 494.2 L340.6 495.8 L341.0 481.3 L341.4 486.3 L341.8 484.9 L342.2 479.4 L342.6 488.7 L343.0 484.2 L343.4 493.5 L343.8 480.0 L344.2 492.6 L344.6 494.7 L345.0 488.3 L345.4 477.7 L345.8 473.7 L346.2 488.2 L346.6 494.2 L347.0 491.4 L347.4 489.2 L347.8 485.9 L348.2 485.1 L348.6 485.5 L349.0 487.2 L349.4 493.5 L349.8 493.9 L350.2 484.7 L350.6 490.3 L351.0 487.5 L351.4 480.0 L351.8 492.2 L352.2 484.8 L352.6 491.8 L353.0 487.7 L353.4 491.3 L353.8 486.7 L354.2 482.5 L354.6 477.7 L355.0 494.0 L355.4 499.7 L355.8 492.5 L356.2 490.1 L356.6 482.9 L357.0 489.9 L357.4 492.7 L357.8 492.5 L358.2 503.3 L358.6 479.6 L359.0 485.0 L359.4 488.8 L359.8 480.9 L360.2 488.3 L360.6 496.2 L361.0 490.8 L361.4 495.3 L361.8 478.2 L362.2 477.6 L362.6 490.8 L363.0 491.6 L363.4 484.8 L363.8 490.0 L364.2 489.8 L364.6 489.1 L365.0 491.1 L365.4 487.3 L365.8 497.2 L366.2 489.3 L366.6 492.7 L367.0 482.2 L367.4 497.5 L367.8 483.1 L368.2 497.5 L368.6 487.9 L369.0 487.4 L369.4 490.6 L369.8 494.0 L370.2 472.1 L370.6 485.5 L371.0 494.8 L371.4 484.7 L371.8 484.8 L372.2 499.0 L372.6 482.5 L373.0 489.0 L373.4 487.0 L373.8 485.8 L374.2 488.8 L374.6 487.3 L375.0 487.4 L375.4 486.3 L375.8 489.2 L376.2 486.1 L376.6 483.7 L377.0 482.9 L377.4 492.8 L377.8 495.2 L378.2 498.7 L378.6 490.3 L379.0 483.3 L379.4 479.4 L379.8 487.5 L380.2 488.5 L380.6 496.9 L381.0 482.0 L381.4 482.6 L381.8 479.4 L382.2 487.5 L382.6 482.5 L383.0 491.9 L383.4 492.5 L383.8 493.2 L384.2 480.0 L384.6 487.1 L385.0 476.0 L385.4 492.6 L385.8 485.3 L386.2 492.5 L386.6 479.4 L387.0 487.2 L387.4 482.4 L387.8 483.4 L388.2 490.0 L388.6 492.1 L389.0 492.6 L389.4 483.2 L389.8 494.8 L390.2 490.7 L390.6 494.3 L391.0 483.2 L391.4 492.8 L391.8 499.6 L392.2 495.9 L392.6 492.0 L393.0 479.4 L393.4 481.5 L393.8 488.7 L394.2 483.3 L394.6 511.7 L395.0 488.3 L395.4 477.6 L395.8 500.3 L396.2 480.0 L396.6 484.7 L397.0 499.3 L397.4 477.1 L397.8 483.7 L398.2 485.5 L398.6 485.8 L399.0 472.6 L399.4 480.7 L399.8 477.5 L400.2 480.0 L400.6 489.7 L401.0 480.4 L401.4 491.3 L401.8 487.7 L402.2 482.0 L402.6 470.3 L403.0 491.1 L403.4 486.5 L403.8 495.0 L404.2 486.4 L404.6 492.5 L405.0 490.6 L405.4 501.5 L405.8 484.5 L406.2 482.7 L406.6 485.9 L407.0 491.3 L407.4 496.6 L407.8 488.4 L408.2 482.1 L408.6 490.9 L409.0 489.1 L409.4 489.8 L409.8 485.6 L410.2 493.8 L410.6 487.2 L411.0 472.5 L411.4 491.3 L411.8 503.9 L412.2 507.8 L412.6 484.3 L413.0 488.6 L413.4 485.2 L413.8 486.5 L414.2 484.7 L414.6 483.1 L415.0 484.6 L415.4 492.6 L415.8 487.1 L416.2 493.1 L416.6 482.3 L417.0 484.6 L417.4 484.4 L417.8 486.9 L418.2 479.2 L418.6 481.3 L419.0 497.3 L419.4 501.7 L419.8 489.2 L420.2 502.8 L420.6 471.2 L421.0 497.1 L421.4 483.7 L421.8 490.9 L422.2 494.6 L422.6 491.2 L423.0 488.6 L423.4 482.7 L423.8 490.1 L424.2 487.7 L424.6 491.7 L425.0 485.8 L425.4 478.4 L425.8 467.7 L426.2 482.9 L426.6 489.7 L427.0 492.6 L427.4 486.0 L427.8 488.4 L428.2 483.6 L428.6 490.3 L429.0 479.6 L429.4 492.8 L429.8 480.0 L430.2 486.1 L430.6 492.6 L431.0 478.7 L431.4 488.0 L431.8 479.2 L432.2 483.6 L432.6 491.0 L433.0 492.4 L433.4 492.0 L433.8 494.7 L434.2 500.7 L434.0 493.7 L436.0 508.7 L438.7 526.5 L441.5 549.7 L444.2 560.6 L444.9 570.2 L448.3 581.1 L450.3 587.9 L452.4 585.2 L454.4 594.8 L456.5 601.6 L460.6 613.9 L466.0 617.3 L468.1 622.1 L470.1 623.4 L475.6 626.2 L482.4 626.9 L489.3 628.9 L490.6 628.8 L491.9 627.8 L493.2 629.2 L494.5 628.2 L495.8 628.3 L497.1 629.4 L498.4 629.6 L499.7 628.8 L501.0 629.2 L502.3 628.6 L503.6 627.7 L504.9 628.2 L506.2 629.5 L507.5 628.4 L508.8 628.5 L510.1 628.4 L511.4 628.6 L512.7 629.0 L514.0 628.5 L515.3 629.3 L516.6 628.8 L517.9 629.1 L519.2 628.9 L520.5 628.6 L521.8 629.0 L523.1 628.7 L524.4 628.8 L525.7 629.1 L527.0 628.9 L528.3 628.7 L529.6 629.1 L530.9 628.8 L532.2 629.5 L533.5 629.4 L534.8 629.0 L536.1 629.5 L537.4 628.1 L538.7 629.0 L540.0 629.3 L541.3 628.0 L542.6 628.9 L543.9 628.5 L545.2 628.6 L546.5 628.4 L547.8 629.1 L549.1 627.2 L550.4 628.7 L551.7 628.7 L553.0 629.0 L554.3 628.9 L555.6 629.5 L556.9 629.6 L558.2 629.2 L559.5 629.0 L560.8 627.9 L562.1 628.2 L563.4 629.3 L564.7 628.5 L566.0 629.1 L567.3 629.3 L568.6 629.1 L569.9 628.1 L571.2 629.1 L572.5 629.5 L573.8 629.2 L575.1 629.5 L576.4 629.0 L577.7 629.2 L579.0 628.5 L580.3 629.2 L581.6 629.3 L582.9 629.5 L584.2 628.4 L585.5 627.9 L586.8 628.3 L588.1 629.3 L589.4 628.8 L590.7 628.2 L592.0 629.1 L593.3 629.1 L594.6 627.8 L595.9 629.5 L597.2 628.9 L598.5 629.6 L599.8 629.4 L601.1 628.9 L602.4 629.4 L603.7 629.4 L605.0 628.9 L606.3 628.9 L607.6 628.8 L608.9 629.5 L610.2 628.8 L611.5 629.4 L612.8 628.5 L614.1 629.2 L615.4 629.2 L616.7 628.4 L618.0 628.2 L619.3 628.7 L620.6 628.9 L621.9 629.5 L623.2 628.4 L624.5 628.5 L625.8 627.8 L627.1 629.5 L628.4 628.9 L629.7 627.5 L631.0 628.9 L632.3 628.5 L633.6 628.3 L634.9 629.5 L636.2 628.6 L637.5 628.6 L638.8 628.5 L640.1 628.6 L641.4 629.2 L642.7 628.8 L644.0 629.2 L645.3 629.3 L646.6 627.3 L647.9 627.9 L649.2 628.2 L650.5 629.4 L651.8 629.3 L653.1 629.2 L654.4 629.3 L655.7 629.2 L657.0 629.4 L658.3 628.8 L659.6 629.5 L660.9 629.4 L662.2 629.4 L663.5 629.4 L664.8 629.3 L666.1 628.4 L667.4 629.4 L668.7 628.2 L670.0 629.4 L671.3 628.6 L672.6 628.3 L673.9 629.2 L675.2 629.5 L676.5 629.0 L677.8 629.5 L679.1 628.7 L680.4 629.5 L681.7 629.0 L683.0 629.6 L684.3 629.3 L685.6 628.7 L686.9 629.2 L688.2 629.6 L689.5 628.4 L690.8 629.5 L692.1 628.4 L693.4 629.4 L694.7 629.1 L696.0 629.0 L697.3 628.8 L698.6 628.3 L699.9 627.2 L701.2 628.6 L702.5 627.6 L703.8 628.9 L705.1 628.2 L706.4 627.9 L707.7 628.5 L709.0 629.5 L710.3 628.4 L711.6 628.8 L712.9 628.6 L714.2 628.8 L715.5 629.2 L716.8 629.4 L718.1 627.2 L719.4 629.3 L720.7 629.2 L722.0 629.5 L723.3 628.0 L724.6 627.9 L725.9 629.4 L727.2 629.6 L728.5 628.9 L729.8 628.3 L731.1 628.4 L732.4 629.4 L733.7 629.5 L735.0 627.9 L736.3 629.2 L737.6 629.6 L738.9 628.9 L740.2 627.1 L741.5 629.1 L742.8 628.8 L744.1 629.2 L745.4 628.9 L746.7 628.0 L748.0 629.4 L749.3 629.5 L750.6 628.4 L751.9 628.8 L753.2 629.5 L754.5 629.1 L755.8 628.7 L757.1 629.4 L758.4 627.7 L759.7 629.4 L761.0 629.1 L762.3 629.6 L763.6 628.5 L764.9 629.4 L766.2 628.8 L767.5 629.5 L768.8 628.2 L770.1 629.5 L771.4 628.5 L772.7 629.5 L774.0 627.7 L775.3 629.3 L776.6 629.0 L777.9 629.3 L779.2 628.8 L780.5 629.4 L781.8 628.2 L783.1 629.3 L784.4 628.5 L785.7 628.2 L787.0 628.8 L788.3 629.6 L789.6 628.9 L790.9 627.2 L792.2 628.1 L793.5 629.0 L794.8 629.0 L796.1 627.2 L797.4 628.1 L798.7 629.2 L800.0 629.3 L801.3 629.2 L802.6 628.0 L803.9 628.7 L805.2 628.2 L806.5 629.0 L807.8 629.1 L809.1 628.3 L810.4 628.7 L811.7 627.9 L813.0 629.3 L814.3 628.5 L815.6 629.5 L816.9 629.3 L818.2 629.4 L819.5 629.1 L820.8 629.3 L822.1 629.1 L823.4 627.7 L824.7 627.5 L826.0 629.1 L827.3 628.4 L828.6 627.8 L829.9 628.7 L831.2 628.4 L832.5 629.0 L833.8 629.4 L835.1 628.7 L836.4 628.5 L837.7 628.5 L839.0 628.6 L840.3 628.6 L841.6 629.3 L842.9 629.3 L844.2 629.3 L845.5 629.3 L846.8 627.4 L848.1 629.1 L849.4 629.3 L850.7 629.4 L852.0 629.4 L853.3 629.4 L854.6 629.0 L855.9 628.8 L857.2 628.8 L858.5 628.4 L859.8 629.3 L861.1 629.5 L862.4 628.5 L863.7 629.2 L865.0 629.5 L866.3 629.5 L867.6 629.2 L868.9 629.0 L870.2 628.1 L871.5 628.6 L872.8 629.1 L874.1 629.1 L875.4 628.9 L876.7 628.9 L878.0 629.3 L879.3 628.9 L880.6 627.2 L881.9 628.4 L883.2 629.3 L884.5 629.0 L885.8 628.7 L887.1 628.8 L888.4 627.5 L889.7 629.4 L891.0 629.6 L892.3 629.5 L893.6 628.7 L894.9 629.1 L896.2 629.4 L897.5 628.9 L898.8 628.2 L900.1 629.6 L901.4 629.4 L902.7 629.3 L904.0 627.9 L905.3 628.2 L906.6 629.6 L907.9 629.0 L909.2 629.5 L910.5 628.8 L911.8 629.5 L913.1 628.9 L914.4 629.4 L915.7 628.9 L917.0 629.0 L918.3 628.3 L919.6 629.4 L920.9 629.2 L922.2 628.8 L923.5 628.7 L924.8 628.8 L926.1 628.6 L927.4 629.0 L928.7 628.8 L930.0 629.4 L931.3 629.0 L932.6 629.2 L933.9 627.9 L935.2 628.9 L936.5 629.2 L937.8 629.2 L939.1 626.9 L940.4 629.4 L941.7 629.5 L943.0 629.0 L944.3 629.5 L945.6 628.9 L946.9 629.1 L948.2 629.3 L949.5 628.9 L950.8 629.4 L952.1 628.4 L953.4 628.8 L954.7 628.9 L956.0 628.6 L957.3 627.5 L958.6 629.6 L959.9 628.7 L961.2 629.5 L962.5 628.5 L963.8 629.6 L965.1 629.5 L966.4 628.4 L967.7 628.9 L969.0 628.8 L970.3 628.7 L971.6 629.0 L972.9 628.3 L974.2 629.4 L975.5 628.8 L976.8 629.5 L978.1 629.2 L979.4 629.5 L980.7 629.4 L982.0 628.9 L983.3 628.8 L984.6 628.1 L985.9 629.5 L987.2 627.6 L988.5 628.6 L989.8 629.6 L991.1 627.5 L992.4 628.8 L993.7 628.5 L995.0 629.5 L996.3 629.1 L997.6 627.9 L998.9 628.7 L1000.2 629.6 L1001.5 629.4 L1002.8 629.0 L1004.1 628.7 L1005.4 628.1 L1006.7 627.5 L1008.0 629.3 L1009.3 628.9 L1010.6 628.1 L1011.9 629.2 L1013.2 627.9 L1014.5 629.4 L1015.8 629.0 L1017.1 629.3 L1018.4 628.9" fill="none" stroke="#000" stroke-width="3.1" stroke-linejoin="round" clip-path="url(#c2)"/>
<line x1="265.7" y1="629.6" x2="265.7" y2="638.1" stroke="#000" stroke-width="2.1"/>
<line x1="432.8" y1="629.6" x2="432.8" y2="638.1" stroke="#000" stroke-width="2.1"/>
<line x1="599.9" y1="629.6" x2="599.9" y2="638.1" stroke="#000" stroke-width="2.1"/>
<line x1="767.0" y1="629.6" x2="767.0" y2="638.1" stroke="#000" stroke-width="2.1"/>
<line x1="934.1" y1="629.6" x2="934.1" y2="638.1" stroke="#000" stroke-width="2.1"/>
<line x1="173.7" y1="472.6" x2="182.2" y2="472.6" stroke="#000" stroke-width="2.1"/>
<text x="165.0" y="484.6" text-anchor="end">2</text>
<line x1="173.7" y1="551.1" x2="182.2" y2="551.1" stroke="#000" stroke-width="2.1"/>
<text x="165.0" y="563.1" text-anchor="end">1</text>
<line x1="173.7" y1="629.6" x2="182.2" y2="629.6" stroke="#000" stroke-width="2.1"/>
<text x="165.0" y="641.6" text-anchor="end">0</text>
<rect x="182.2" y="472.6" width="835.4" height="157.0" fill="none" stroke="#000" stroke-width="2.1"/>
<text transform="translate(35.8 559.1) rotate(-90)" text-anchor="middle">V<tspan font-size="25" dy="5.5" dx="1">bias</tspan></text>
<text transform="translate(73.5 551.1) rotate(-90)" text-anchor="middle">(kV)</text>
<text x="475" y="551.5">Bias termination at t=28ms</text>
<line x1="265.7" y1="829.2" x2="265.7" y2="672.2" stroke="#bebebe" stroke-width="2.0" stroke-dasharray="6.8 3.3"/>
<line x1="432.8" y1="829.2" x2="432.8" y2="672.2" stroke="#bebebe" stroke-width="2.0" stroke-dasharray="6.8 3.3"/>
<line x1="599.9" y1="829.2" x2="599.9" y2="672.2" stroke="#bebebe" stroke-width="2.0" stroke-dasharray="6.8 3.3"/>
<line x1="767.0" y1="829.2" x2="767.0" y2="672.2" stroke="#bebebe" stroke-width="2.0" stroke-dasharray="6.8 3.3"/>
<line x1="934.1" y1="829.2" x2="934.1" y2="672.2" stroke="#bebebe" stroke-width="2.0" stroke-dasharray="6.8 3.3"/>
<line x1="182.2" y1="750.7" x2="1017.6" y2="750.7" stroke="#bebebe" stroke-width="2.0" stroke-dasharray="6.8 3.3"/>
<rect x="600" y="685" width="192" height="56" fill="#fff"/>
<path d="M182.2 690.7 L194.9 685.8 L216.0 695.1 L236.5 689.3 L258.4 692.8 L278.9 691.3 L299.4 688.1 L320.5 692.8 L341.0 688.4 L361.7 684.0 L382.8 689.3 L403.9 683.4 L425.2 692.8 L445.7 698.6 L486.8 766.2 L507.9 775.6 L528.7 779.4 L549.8 780.0 L570.8 783.5 L591.6 790.8 L612.7 785.9 L633.2 786.7 L654.2 788.8 L675.6 783.5 L696.1 786.4 L717.5 789.7 L738.2 787.3 L758.7 786.4 L779.7 788.8 L800.5 787.6 L821.6 790.2 L842.1 793.5 L863.1 791.7 L884.5 794.6 L905.0 796.1 L926.1 798.4 L946.9 799.6 L967.3 797.6 L988.4 804.6 L1008.9 803.4 L1017.7 805.8" fill="none" stroke="#000" stroke-width="3.1" stroke-linejoin="round" clip-path="url(#c3)"/>
<line x1="432.8" y1="829.2" x2="432.8" y2="672.2" stroke="#e8372a" stroke-width="3.6" stroke-dasharray="13.3 5.7" stroke-dashoffset="5.0"/>
<line x1="265.7" y1="829.2" x2="265.7" y2="837.7" stroke="#000" stroke-width="2.1"/>
<text x="265.7" y="870.4" text-anchor="middle">26</text>
<line x1="432.8" y1="829.2" x2="432.8" y2="837.7" stroke="#000" stroke-width="2.1"/>
<text x="432.8" y="870.4" text-anchor="middle">28</text>
<line x1="599.9" y1="829.2" x2="599.9" y2="837.7" stroke="#000" stroke-width="2.1"/>
<text x="599.9" y="870.4" text-anchor="middle">30</text>
<line x1="767.0" y1="829.2" x2="767.0" y2="837.7" stroke="#000" stroke-width="2.1"/>
<text x="767.0" y="870.4" text-anchor="middle">32</text>
<line x1="934.1" y1="829.2" x2="934.1" y2="837.7" stroke="#000" stroke-width="2.1"/>
<text x="934.1" y="870.4" text-anchor="middle">34</text>
<line x1="173.7" y1="672.2" x2="182.2" y2="672.2" stroke="#000" stroke-width="2.1"/>
<text x="165.0" y="684.2" text-anchor="end">250</text>
<line x1="173.7" y1="750.7" x2="182.2" y2="750.7" stroke="#000" stroke-width="2.1"/>
<text x="165.0" y="762.7" text-anchor="end">0</text>
<line x1="173.7" y1="829.2" x2="182.2" y2="829.2" stroke="#000" stroke-width="2.1"/>
<text x="165.0" y="841.2" text-anchor="end">−250</text>
<rect x="182.2" y="672.2" width="835.4" height="157.0" fill="none" stroke="#000" stroke-width="2.1"/>
<text transform="translate(37.3 755.7) rotate(-90)" text-anchor="middle">Rotation</text>
<text transform="translate(73.5 751.7) rotate(-90)" text-anchor="middle">(rad/ms)</text>
<text x="609" y="721">Impurity Ion</text>
</g>
<text x="65.8" y="22" font-family='"Liberation Serif", "Times New Roman", serif' font-size="33" stroke="#000" stroke-width="0.15">(a)</text>
<text x="65.8" y="947.7" font-family='"Liberation Serif", "Times New Roman", serif' font-size="33" stroke="#000" stroke-width="0.15">(b)</text>
<g font-family='"Liberation Sans", Arial, Helvetica, sans-serif' font-size="40" fill="#000" class="t">
<line x1="285.6" y1="1541.4" x2="285.6" y2="996.4" stroke="#bcbcbc" stroke-width="1.8" stroke-dasharray="6.2 2.7"/>
<line x1="396.2" y1="1541.4" x2="396.2" y2="996.4" stroke="#bcbcbc" stroke-width="1.8" stroke-dasharray="6.2 2.7"/>
<line x1="617.4" y1="1541.4" x2="617.4" y2="996.4" stroke="#bcbcbc" stroke-width="1.8" stroke-dasharray="6.2 2.7"/>
<line x1="728.0" y1="1541.4" x2="728.0" y2="996.4" stroke="#bcbcbc" stroke-width="1.8" stroke-dasharray="6.2 2.7"/>
<line x1="838.6" y1="1541.4" x2="838.6" y2="996.4" stroke="#bcbcbc" stroke-width="1.8" stroke-dasharray="6.2 2.7"/>
<line x1="949.2" y1="1541.4" x2="949.2" y2="996.4" stroke="#bcbcbc" stroke-width="1.8" stroke-dasharray="6.2 2.7"/>
<line x1="175.0" y1="1432.4" x2="989.2" y2="1432.4" stroke="#bcbcbc" stroke-width="1.8" stroke-dasharray="6.2 2.7"/>
<line x1="175.0" y1="1323.4" x2="989.2" y2="1323.4" stroke="#bcbcbc" stroke-width="1.8" stroke-dasharray="6.2 2.7"/>
<line x1="175.0" y1="1214.4" x2="989.2" y2="1214.4" stroke="#bcbcbc" stroke-width="1.8" stroke-dasharray="6.2 2.7"/>
<line x1="175.0" y1="1105.4" x2="989.2" y2="1105.4" stroke="#bcbcbc" stroke-width="1.8" stroke-dasharray="6.2 2.7"/>
<line x1="507.0" y1="996.4" x2="507.0" y2="1541.4" stroke="#000" stroke-width="3.2" stroke-dasharray="11.84 5.12" stroke-dashoffset="4.74"/>
<g stroke="#6e6e6e" stroke-width="6.0" fill="none">
<line x1="215.3" y1="1163.2" x2="321.4" y2="1163.2"/>
<line x1="268.4" y1="1037.5" x2="268.4" y2="1289.2"/>
<line x1="215.3" y1="1142.0" x2="215.3" y2="1184.4" stroke-width="6.2"/>
<line x1="321.4" y1="1142.0" x2="321.4" y2="1184.4" stroke-width="6.2"/>
<line x1="247.2" y1="1037.5" x2="289.6" y2="1037.5" stroke-width="6.2"/>
<line x1="247.2" y1="1289.2" x2="289.6" y2="1289.2" stroke-width="6.2"/>
</g>
<rect x="255.3" y="1150.2" width="26.0" height="26.0" fill="#696969" stroke="#000" stroke-width="2.1"/>
<g stroke="#4169e1" stroke-width="6.0" fill="none">
<line x1="720.3" y1="1295.4" x2="828.9" y2="1295.4"/>
<line x1="774.6" y1="1251.2" x2="774.6" y2="1339.6"/>
<line x1="720.3" y1="1274.2" x2="720.3" y2="1316.6" stroke-width="6.2"/>
<line x1="828.9" y1="1274.2" x2="828.9" y2="1316.6" stroke-width="6.2"/>
<line x1="753.4" y1="1251.2" x2="795.8" y2="1251.2" stroke-width="6.2"/>
<line x1="753.4" y1="1339.6" x2="795.8" y2="1339.6" stroke-width="6.2"/>
</g>
<path d="M774.6 1281.9 L788.1 1308.9 L761.1 1308.9 Z" fill="#4169e1" stroke="#0000ff" stroke-width="2.3" stroke-linejoin="miter"/>
<g stroke="#ff1493" stroke-width="6.0" fill="none">
<line x1="899.2" y1="1284.8" x2="952.4" y2="1284.8"/>
<line x1="925.8" y1="1242.5" x2="925.8" y2="1327.3"/>
<line x1="899.2" y1="1263.6" x2="899.2" y2="1306.0" stroke-width="6.2"/>
<line x1="952.4" y1="1263.6" x2="952.4" y2="1306.0" stroke-width="6.2"/>
<line x1="904.6" y1="1242.5" x2="947.0" y2="1242.5" stroke-width="6.2"/>
<line x1="904.6" y1="1327.3" x2="947.0" y2="1327.3" stroke-width="6.2"/>
</g>
<circle cx="925.8" cy="1284.8" r="13.3" fill="#ff1493" stroke="#ff0000" stroke-width="2.3"/>
<line x1="175.0" y1="1541.4" x2="175.0" y2="1548.9" stroke="#000" stroke-width="1.7"/>
<text x="175.0" y="1583.9" text-anchor="middle">−150</text>
<line x1="285.6" y1="1541.4" x2="285.6" y2="1548.9" stroke="#000" stroke-width="1.7"/>
<text x="285.6" y="1583.9" text-anchor="middle">−100</text>
<line x1="396.2" y1="1541.4" x2="396.2" y2="1548.9" stroke="#000" stroke-width="1.7"/>
<text x="396.2" y="1583.9" text-anchor="middle">−50</text>
<line x1="506.8" y1="1541.4" x2="506.8" y2="1548.9" stroke="#000" stroke-width="1.7"/>
<text x="506.8" y="1583.9" text-anchor="middle">0</text>
<line x1="617.4" y1="1541.4" x2="617.4" y2="1548.9" stroke="#000" stroke-width="1.7"/>
<text x="617.4" y="1583.9" text-anchor="middle">50</text>
<line x1="728.0" y1="1541.4" x2="728.0" y2="1548.9" stroke="#000" stroke-width="1.7"/>
<text x="728.0" y="1583.9" text-anchor="middle">100</text>
<line x1="838.6" y1="1541.4" x2="838.6" y2="1548.9" stroke="#000" stroke-width="1.7"/>
<text x="838.6" y="1583.9" text-anchor="middle">150</text>
<line x1="949.2" y1="1541.4" x2="949.2" y2="1548.9" stroke="#000" stroke-width="1.7"/>
<text x="949.2" y="1583.9" text-anchor="middle">200</text>
<line x1="167.5" y1="1541.4" x2="175.0" y2="1541.4" stroke="#000" stroke-width="1.7"/>
<text x="161.0" y="1555.7" text-anchor="end">0.0</text>
<line x1="167.5" y1="1432.4" x2="175.0" y2="1432.4" stroke="#000" stroke-width="1.7"/>
<text x="161.0" y="1446.7" text-anchor="end">0.5</text>
<line x1="167.5" y1="1323.4" x2="175.0" y2="1323.4" stroke="#000" stroke-width="1.7"/>
<text x="161.0" y="1337.7" text-anchor="end">1.0</text>
<line x1="167.5" y1="1214.4" x2="175.0" y2="1214.4" stroke="#000" stroke-width="1.7"/>
<text x="161.0" y="1228.7" text-anchor="end">1.5</text>
<line x1="167.5" y1="1105.4" x2="175.0" y2="1105.4" stroke="#000" stroke-width="1.7"/>
<text x="161.0" y="1119.7" text-anchor="end">2.0</text>
<line x1="167.5" y1="996.4" x2="175.0" y2="996.4" stroke="#000" stroke-width="1.7"/>
<text x="161.0" y="1010.7" text-anchor="end">2.5</text>
<rect x="175.0" y="996.4" width="814.2" height="545.0" fill="none" stroke="#000" stroke-width="1.7"/>
<g font-size="29.5">
<rect x="190" y="1456.6" width="302.5" height="45.8" rx="7" fill="#fff" stroke="#000" stroke-width="2"/>
<text x="341.2" y="1487.5" text-anchor="middle">w/o Electrode Biasing</text>
<rect x="605.6" y="1456.6" width="285.6" height="45.8" rx="7" fill="#fff" stroke="#000" stroke-width="2"/>
<text x="748.5" y="1487.5" text-anchor="middle">w/ Electrode Biasing</text>
</g>
<rect x="658.8" y="1013.7" width="313.5" height="202" rx="6" fill="#fff" fill-opacity="0.97" stroke="#cdcdcd" stroke-width="2"/>
<g font-size="34">
<text x="805.8" y="1056.5" text-anchor="middle" font-size="33.8">Bias Voltage</text>
<text x="766.2" y="1103.8">0<tspan dx="3.6">±</tspan><tspan dx="3.6">5</tspan><tspan dx="1.5"> V</tspan></text>
<text x="766.2" y="1151.8">600<tspan dx="3.6">±</tspan><tspan dx="3.6">25</tspan><tspan dx="1.5"> V</tspan></text>
<text x="766.2" y="1199.8">1800<tspan dx="3.6">±</tspan><tspan dx="3.6">115</tspan><tspan dx="1.5"> V</tspan></text>
</g>
<rect x="692.6" y="1084.2" width="26.0" height="26.0" fill="#696969" stroke="#000" stroke-width="2.1"/>
<path d="M705.6 1132.0 L719.1 1159.0 L692.1 1159.0 Z" fill="#4169e1" stroke="#0000ff" stroke-width="2.3" stroke-linejoin="miter"/>
<circle cx="705.6" cy="1193.5" r="13.3" fill="#ff1493" stroke="#ff0000" stroke-width="2.3"/>
<text x="582.1" y="1657" font-size="38.4" text-anchor="middle">Angular Velocity (O<tspan font-size="28" dy="-15">4 +</tspan><tspan dy="15"> , rad/ms)</tspan></text>
<text transform="translate(67.8 1268.9) rotate(-90)" font-size="38.3" text-anchor="middle">n=2 mode amplitude (Gauss)</text>
</g>
</g>
</svg>
</body></html>
